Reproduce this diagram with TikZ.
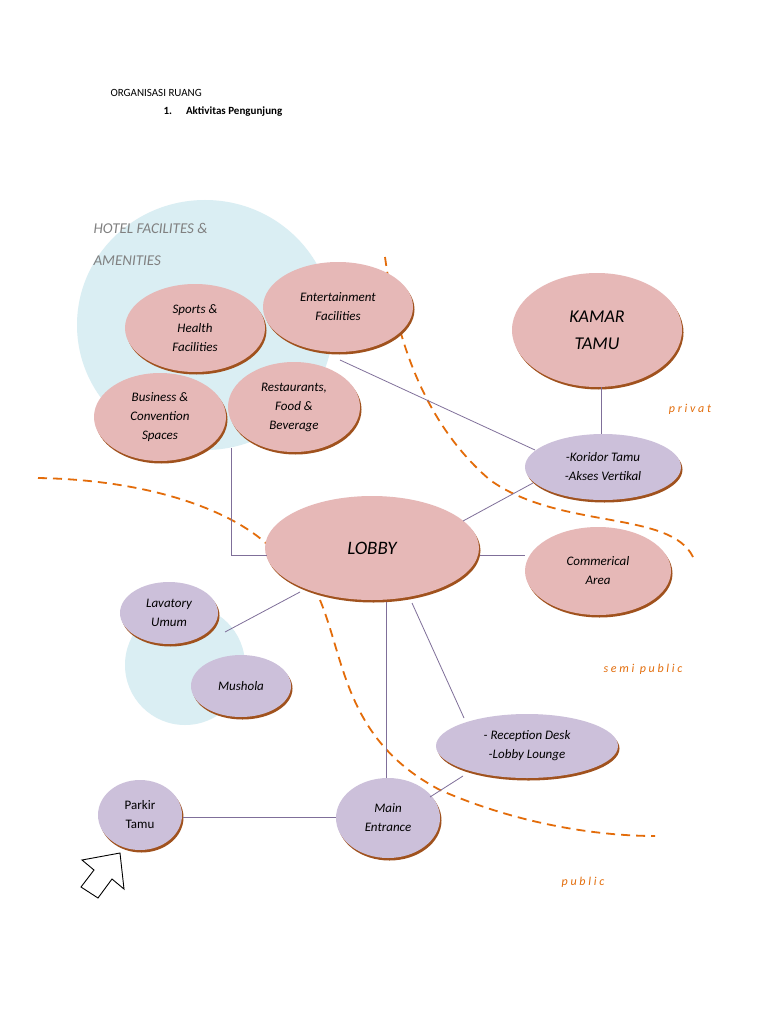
\documentclass[tikz,border=0pt]{standalone}
\usepackage{fontspec}
\setmainfont{Carlito}
\begin{document}
\begin{tikzpicture}[x=1pt,y=-1pt,
  bub/.style={ellipse node},
  lnk/.style={draw=linkc,line width=0.8pt},
  dsh/.style={draw=orng,line width=1.8pt,dash pattern=on 9pt off 6pt},
  lbl/.style={font=\fontsize{13}{19}\selectfont\itshape,align=center},
  zone/.style={text=orng,font=\fontsize{12}{14}\selectfont\itshape}]
\definecolor{pinkc}{HTML}{E6B8B7}
\definecolor{purc}{HTML}{CCC0DA}
\definecolor{bluec}{HTML}{DAEEF3}
\definecolor{shad}{HTML}{A0521E}
\definecolor{linkc}{HTML}{7F6F99}
\definecolor{orng}{HTML}{E36C0A}
\useasboundingbox (0,0) rectangle (768,1024);
\fill[white] (0,0) rectangle (768,1024);
% blue background circles
\fill[bluec] (205,325) ellipse [x radius=128,y radius=125];
\fill[bluec] (185,665) ellipse [x radius=60,y radius=60];
% header
\node[anchor=west,font=\fontsize{11}{13}\selectfont] (hdr) at (107,93) {ORGANISASI RUANG};
\node[anchor=west,font=\fontsize{11}{13}\selectfont\bfseries] (sub) at (160,112) {1.\hspace{14pt}Aktivitas Pengunjung};
\node[anchor=west,text=gray,font=\fontsize{15}{32}\selectfont\itshape,align=left] (hf) at (90,244) {HOTEL FACILITES \&\\AMENITIES};
% dashed boundaries
\draw[dsh] (385,257) .. controls (395,330) and (420,420) .. (490,480) .. controls (560,530) and (670,510) .. (693,557);
\draw[dsh] (38,478) .. controls (150,480) and (230,510) .. (268,545);
\draw[dsh] (320,600) .. controls (345,660) and (345,740) .. (440,790) .. controls (520,825) and (600,836) .. (655,836);
% ellipses
\newcommand{\bubl}[7]{% name, x, y, rx, ry, fill, text
  \fill[shad] (#2+1.5,#3+2.5) ellipse [x radius=#4,y radius=#5];
  \fill[#6] (#2,#3) ellipse [x radius=#4,y radius=#5];
  \node[lbl] (#1) at (#2,#3) {#7};}
\bubl{sport}{195}{328}{70}{44}{pinkc}{Sports \&\\Health\\Facilities}
\bubl{ent}{338}{307}{75}{45}{pinkc}{Entertainment\\Facilities}
\bubl{bus}{160}{417}{66}{44}{pinkc}{Business \&\\Convention\\Spaces}
\bubl{rest}{294}{407}{66}{45}{pinkc}{Restaurants,\\Food \&\\Beverage}
\bubl{kamar}{597}{330}{85}{57}{pinkc}{}
\node[font=\fontsize{18}{27}\selectfont\itshape,align=center] (kt) at (597,330) {KAMAR\\TAMU};
\bubl{kor}{603}{467}{78}{33}{purc}{-Koridor Tamu\\-Akses Vertikal}
\bubl{lobbyb}{372}{548}{107}{52}{pinkc}{}
\node[font=\fontsize{19}{22}\selectfont\itshape] (lobby) at (372,548) {LOBBY};
\bubl{com}{598}{571}{73}{44}{pinkc}{Commerical\\Area}
\bubl{lav}{169}{613}{49}{31}{purc}{Lavatory\\Umum}
\bubl{mus}{241}{686}{50}{31}{purc}{Mushola}
\bubl{rec}{527}{746}{91}{32}{purc}{- Reception Desk\\-Lobby Lounge}
\bubl{park}{140}{815}{42}{35}{purc}{}
\node[font=\fontsize{13}{19}\selectfont,align=center] (parkir) at (140,815) {Parkir\\Tamu};
\bubl{main}{388}{818}{52}{40}{purc}{Main\\Entrance}
% connectors
\coordinate (c1) at (340,360); \coordinate (c2) at (535,450);
\draw[lnk] (c1) -- (c2);
\coordinate (r1) at (231,448); \coordinate (r2) at (231,555); \coordinate (r3) at (267,555);
\draw[lnk] (r1) -- (r2) -- (r3);
\coordinate (k1) at (463,521); \coordinate (k2) at (533,483);
\draw[lnk] (k1) -- (k2);
\coordinate (t1) at (601,387); \coordinate (t2) at (601,434);
\draw[lnk] (t1) -- (t2);
\coordinate (m1) at (480,555); \coordinate (m2) at (525,555);
\draw[lnk] (m1) -- (m2);
\coordinate (v1) at (300,592); \coordinate (v2) at (225,632);
\draw[lnk] (v1) -- (v2);
\coordinate (e1) at (386,602); \coordinate (e2) at (386,778);
\draw[lnk] (e1) -- (e2);
\coordinate (d1) at (412,603); \coordinate (d2) at (464,718);
\draw[lnk] (d1) -- (d2);
\coordinate (f1) at (463,776); \coordinate (f2) at (430,797);
\draw[lnk] (f1) -- (f2);
\coordinate (p1) at (183,817); \coordinate (p2) at (336,817);
\draw[lnk] (p1) -- (p2);
% zone labels
\node[zone] (priv) at (690,409) {p r i v a t};
\node[zone] (semi) at (643,669) {s e m i \ p u b l i c};
\node[zone] (pub) at (583,882) {p u b l i c};
% arrow
\draw[black,fill=white,line width=0.9pt] (82,860) -- (120,853) -- (124,889) -- (112,879) -- (98,898) -- (81,887) -- (94,870) -- cycle;
\end{tikzpicture}
\end{document}
